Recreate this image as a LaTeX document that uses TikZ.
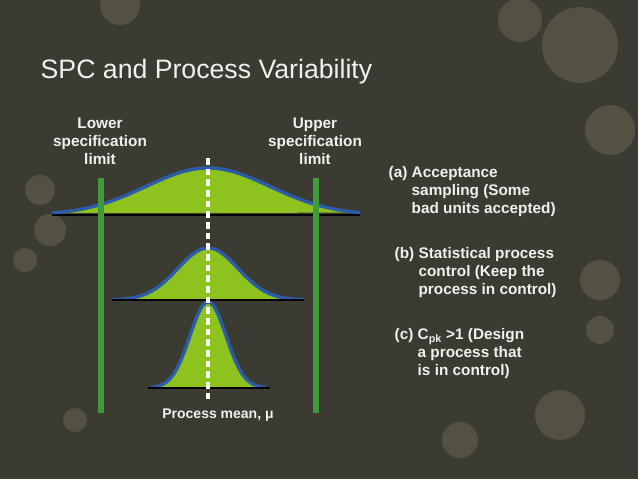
\documentclass[tikz,border=0pt]{standalone}
\usepackage{fontspec}
\setmainfont{Liberation Sans}
\definecolor{bg}{HTML}{3C3B31}
\definecolor{gfill}{HTML}{8DC21F}
\definecolor{bline}{HTML}{2C5DAA}
\definecolor{sgreen}{HTML}{3E9A3A}
\definecolor{txt}{HTML}{F0F0F0}
\begin{document}
\begin{tikzpicture}[x=0.75pt,y=-0.75pt,
  lbl/.style={text=txt,font=\bfseries\fontsize{11.5}{13.5}\selectfont,align=center},
  rl/.style={text=txt,font=\bfseries\fontsize{11.5}{13.5}\selectfont,align=left,anchor=north west},
  spec/.style={draw=sgreen,line width=4.5pt},
  base/.style={draw=black,line width=1.5pt},
  bcurve/.style={draw=bline,line width=2.5pt}]
\fill[bg] (0,0) rectangle (638,479);
\useasboundingbox (0,0) rectangle (638,479);
\foreach \cx/\cy/\r in {580/45/38,520/20/22,610/130/25,40/190/15,50/230/16,25/260/12,600/280/20,600/330/14,560/415/25,120/5/20,460/440/18,75/420/12}
  \fill[white!60!brown,opacity=0.15] (\cx,\cy) circle (\r);
\node[anchor=west,text=txt,font=\fontsize{20}{24}\selectfont] (t) at (36,72) {SPC and Process Variability};
\node[lbl] (ll) at (100,141) {Lower\\specification\\limit};
\node[lbl] (ul) at (315,141) {Upper\\specification\\limit};
\coordinate (l1) at (101,178); \coordinate (l2) at (101,413);
\coordinate (u1) at (316,178); \coordinate (u2) at (316,413);
\fill[gfill] plot[domain=52:360,samples=80] (\x,{215-47*exp(-((\x-208)/62)^2/2)}) -- cycle;
\draw[bcurve] plot[domain=52:360,samples=80] (\x,{215-47*exp(-((\x-208)/62)^2/2)});
\draw[base] (52,215) -- (360,215);
\fill[gfill] plot[domain=112:304,samples=80] (\x,{300-52*exp(-((\x-208)/30)^2/2)}) -- cycle;
\draw[bcurve] plot[domain=112:304,samples=80] (\x,{300-52*exp(-((\x-208)/30)^2/2)});
\draw[base] (112,300) -- (304,300);
\fill[gfill] plot[domain=150:266,samples=80] (\x,{388-86*exp(-((\x-208)/18)^2/2)}) -- cycle;
\draw[bcurve] plot[domain=150:266,samples=80] (\x,{388-86*exp(-((\x-208)/18)^2/2)});
\draw[base] (148,388) -- (270,388);
\draw[spec] (l1) -- (l2);
\draw[spec] (u1) -- (u2);
\coordinate (m1) at (208,158); \coordinate (m2) at (208,402);
\draw[white,line width=3pt,dash pattern=on 5pt off 3pt] (m1) -- (m2);
\node[lbl,font=\bfseries\fontsize{10.5}{12}\selectfont] (pm) at (218,415) {Process mean, μ};
\node[rl] (a) at (384,162) {(a) Acceptance\\\phantom{(a) }sampling (Some\\\phantom{(a) }bad units accepted)};
\node[rl] (b) at (390,243) {(b) Statistical process\\\phantom{(b) }control (Keep the\\\phantom{(b) }process in control)};
\node[rl] (c) at (390,324) {(c) C\textsubscript{pk} \textgreater1 (Design\\\phantom{(c) }a process that\\\phantom{(c) }is in control)};
\end{tikzpicture}
\end{document}
